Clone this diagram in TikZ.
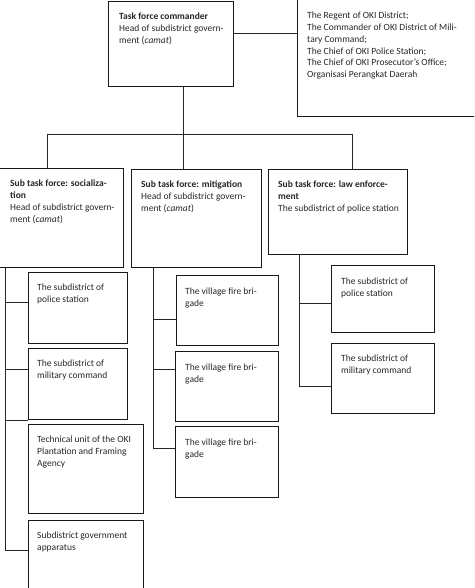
\documentclass[tikz,border=0pt]{standalone}
\usepackage{fontspec}
\setmainfont{Carlito}
\begin{document}
\begin{tikzpicture}[x=1pt,y=-1pt,
  box/.style={draw=black!90, line width=1.4pt, inner sep=0pt, anchor=north west},
  txt/.style={anchor=north west, inner sep=0pt, align=left, text=black!85,
    font=\fontsize{9.5}{11.8}\selectfont},
  conn/.style={draw=black!85, line width=0.9pt}]
\useasboundingbox (0,0) rectangle (474,588);
\clip (0,0) rectangle (474,588);
% boxes
\node[box, minimum width=125pt, minimum height=85pt] (cmd) at (108,1) {};
\node[box, minimum width=200pt, minimum height=126pt] (rbox) at (297,-10) {};
\node[box, minimum width=125pt, minimum height=99pt] (soc) at (-2,168) {};
\node[box, minimum width=130pt, minimum height=98pt] (mit) at (131,169) {};
\node[box, minimum width=139pt, minimum height=85pt] (law) at (268,169) {};
\node[box, minimum width=99pt, minimum height=71pt] (s1) at (28,272) {};
\node[box, minimum width=99pt, minimum height=71pt] (s2) at (28,348) {};
\node[box, minimum width=115pt, minimum height=89pt] (s3) at (28,424) {};
\node[box, minimum width=115pt, minimum height=100pt] (s4) at (28,520) {};
\node[box, minimum width=102pt, minimum height=70pt] (m1) at (176,275) {};
\node[box, minimum width=103pt, minimum height=70pt] (m2) at (175,351) {};
\node[box, minimum width=103pt, minimum height=71pt] (m3) at (175,426) {};
\node[box, minimum width=103pt, minimum height=67pt] (l1) at (331,265) {};
\node[box, minimum width=103pt, minimum height=70pt] (l2) at (331,343) {};
% texts
\node[txt] (tcmd) at (119,13) {\textbf{Task force commander}\\Head of subdistrict govern-\\ment (\textit{camat})};
\node[txt] (trbox) at (307,12) {The Regent of OKI District;\\The Commander of OKI District of Mili-\\tary Command;\\The Chief of OKI Police Station;\\The Chief of OKI Prosecutor’s Office;\\Organisasi Perangkat Daerah};
\node[txt] (tsoc) at (10,180) {\textbf{Sub task force: socializa-}\\\textbf{tion}\\Head of subdistrict govern-\\ment (\textit{camat})};
\node[txt] (tmit) at (141,181) {\textbf{Sub task force: mitigation}\\Head of subdistrict govern-\\ment (\textit{camat})};
\node[txt] (tlaw) at (278,181) {\textbf{Sub task force: law enforce-}\\\textbf{ment}\\The subdistrict of police station};
\node[txt] (ts1) at (37,284) {The subdistrict of\\police station};
\node[txt] (ts2) at (37,360) {The subdistrict of\\military command};
\node[txt] (ts3) at (37,436) {Technical unit of the OKI\\Plantation and Framing\\Agency};
\node[txt] (ts4) at (37,532) {Subdistrict government\\apparatus};
\node[txt] (tm1) at (185,288) {The village fire bri-\\gade};
\node[txt] (tm2) at (185,364) {The village fire bri-\\gade};
\node[txt] (tm3) at (185,439) {The village fire bri-\\gade};
\node[txt] (tl1) at (341,278) {The subdistrict of\\police station};
\node[txt] (tl2) at (341,355) {The subdistrict of\\military command};
% connectors
\coordinate (c1) at ([yshift=-32pt]cmd.north east);
\draw[conn] (c1) -- (c1 -| rbox.west);
\coordinate (j1) at (47,134);
\coordinate (j2) at (183,134);
\coordinate (j3) at (352,134);
\draw[conn] (cmd.south -| j2) -- (j2);
\draw[conn] (j1) -- (j3);
\draw[conn] (j1) -- (j1 |- soc.north);
\draw[conn] (j2) -- (j2 |- mit.north);
\draw[conn] (j3) -- (j3 |- law.north);
% socialization spine
\draw[conn] (soc.south -| 5,0) -- (5,551);
\draw[conn] (5,302) -- (s1.west |- 0,302);
\draw[conn] (5,369) -- (s2.west |- 0,369);
\draw[conn] (5,420) -- (s3.west |- 0,420);
\draw[conn] (5,550) -- (s4.west |- 0,550);
% mitigation spine
\draw[conn] (mit.south -| 153,0) -- (153,448);
\draw[conn] (153,319) -- (m1.west |- 0,319);
\draw[conn] (153,369) -- (m2.west |- 0,369);
\draw[conn] (153,448) -- (m3.west |- 0,448);
% law enforcement spine
\draw[conn] (law.south -| 299,0) -- (299,386);
\draw[conn] (299,303) -- (l1.west |- 0,303);
\draw[conn] (299,386) -- (l2.west |- 0,386);
\end{tikzpicture}
\end{document}
